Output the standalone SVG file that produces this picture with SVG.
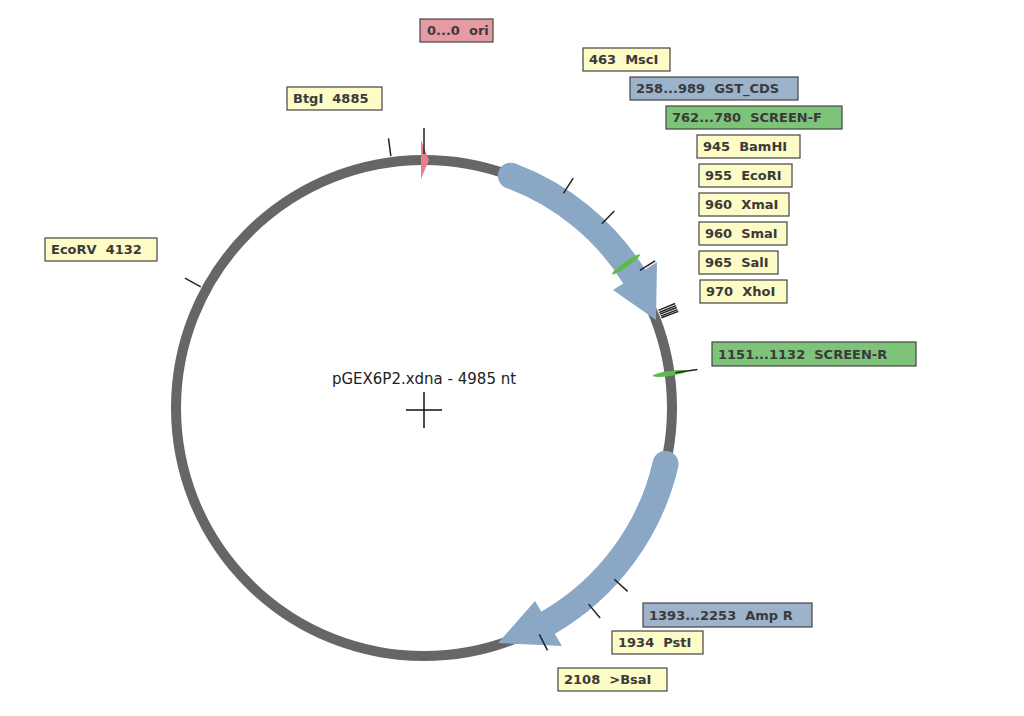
<svg xmlns="http://www.w3.org/2000/svg" width="1024" height="716" viewBox="0 0 1024 716">
<style>
.lb rect{stroke:#444;stroke-width:1.2}
.lb text{font-family:"DejaVu Sans",sans-serif;font-size:13px;font-weight:bold;fill:#3a3a3a;white-space:pre}
.y{fill:#fdfbc6}.p{fill:#e69aa4}.b{fill:#9db3cc}.g{fill:#7dc37a}
.tk{stroke:#222;stroke-width:1.5}
</style>
<rect width="1024" height="716" fill="#fff"/>
<g id="backbone"><circle cx="424" cy="408" r="248" fill="none" stroke="#666" stroke-width="10"/></g>
<g id="features">
<g id="GST_CDS"><path d="M510.8,175.7 A248,248 0 0 1 634.3,276.6" fill="none" stroke="#8aa7c6" stroke-width="26" stroke-linecap="round"/><polygon points="613,290 657,262 656,320" fill="#8aa7c6"/></g>
<g id="AmpR"><path d="M665.6,463.8 A248,248 0 0 1 548,622.8" fill="none" stroke="#8aa7c6" stroke-width="26" stroke-linecap="round"/><polygon points="535,601 562,646 498,643" fill="#8aa7c6"/></g>
<g id="ori"><polygon points="421,140 429,160 421,179" fill="#e8808c"/></g>
<g id="SCREEN-F"><ellipse cx="424" cy="160" rx="2.5" ry="17" fill="#5dbb4a" transform="rotate(54.6 424 408)"/></g>
<g id="SCREEN-R"><ellipse cx="424" cy="160" rx="2.5" ry="17" fill="#5dbb4a" transform="rotate(82 424 408)"/></g>
</g>
<g id="connectors" class="tk">
<line x1="424" y1="154" x2="424" y2="136" transform="rotate(-7.5 424 408)"/>
<line x1="424" y1="154" x2="424" y2="128" transform="rotate(0 424 408)"/>
<line x1="424" y1="152" x2="424" y2="134" transform="rotate(33 424 408)"/>
<line x1="424" y1="152" x2="424" y2="134" transform="rotate(44 424 408)"/>
<line x1="424" y1="152" x2="424" y2="134" transform="rotate(57.5 424 408)"/>
<line x1="424" y1="154" x2="424" y2="136" transform="rotate(67.4 424 408)"/>
<line x1="424" y1="154" x2="424" y2="136" transform="rotate(67.9 424 408)"/>
<line x1="424" y1="154" x2="424" y2="136" transform="rotate(68.3 424 408)"/>
<line x1="424" y1="154" x2="424" y2="136" transform="rotate(68.8 424 408)"/>
<line x1="424" y1="154" x2="424" y2="136" transform="rotate(69.2 424 408)"/>
<line x1="424" y1="154" x2="424" y2="132" transform="rotate(82 424 408)"/>
<line x1="424" y1="152" x2="424" y2="134" transform="rotate(132 424 408)"/>
<line x1="424" y1="152" x2="424" y2="134" transform="rotate(140 424 408)"/>
<line x1="424" y1="154" x2="424" y2="136" transform="rotate(153 424 408)"/>
<line x1="424" y1="154" x2="424" y2="136" transform="rotate(-61.5 424 408)"/>
</g>
<g id="labels" class="lb">
<g id="l-ori"><rect class="p" x="420" y="19" width="73" height="23"/><text x="427" y="35">0...0  ori</text></g>
<g id="l-mscI"><rect class="y" x="583" y="48" width="87" height="23"/><text x="589" y="64">463  MscI</text></g>
<g id="l-gst"><rect class="b" x="630" y="77" width="168" height="23"/><text x="636" y="93">258...989  GST_CDS</text></g>
<g id="l-sf"><rect class="g" x="666" y="106" width="176" height="23"/><text x="672" y="122">762...780  SCREEN-F</text></g>
<g id="l-bam"><rect class="y" x="697" y="135" width="103" height="23"/><text x="703" y="151">945  BamHI</text></g>
<g id="l-eco"><rect class="y" x="699" y="164" width="93" height="23"/><text x="705" y="180">955  EcoRI</text></g>
<g id="l-xma"><rect class="y" x="699" y="193" width="90" height="23"/><text x="705" y="209">960  XmaI</text></g>
<g id="l-sma"><rect class="y" x="699" y="222" width="88" height="23"/><text x="705" y="238">960  SmaI</text></g>
<g id="l-sal"><rect class="y" x="699" y="251" width="79" height="23"/><text x="705" y="267">965  SalI</text></g>
<g id="l-xho"><rect class="y" x="700" y="280" width="87" height="23"/><text x="706" y="296">970  XhoI</text></g>
<g id="l-btg"><rect class="y" x="287" y="87" width="95" height="23"/><text x="293" y="103">BtgI  4885</text></g>
<g id="l-ecorv"><rect class="y" x="45" y="238" width="112" height="23"/><text x="51" y="254">EcoRV  4132</text></g>
<g id="l-sr"><rect class="g" x="712" y="342" width="204" height="24"/><text x="718" y="359">1151...1132  SCREEN-R</text></g>
<g id="l-amp"><rect class="b" x="643" y="603" width="169" height="24"/><text x="649" y="620">1393...2253  Amp R</text></g>
<g id="l-pst"><rect class="y" x="612" y="631" width="91" height="23"/><text x="618" y="647">1934  PstI</text></g>
<g id="l-bsa"><rect class="y" x="558" y="668" width="109" height="23"/><text x="564" y="684">2108  &gt;BsaI</text></g>
</g>
<g id="center">
<text x="424" y="384" text-anchor="middle" font-family="DejaVu Sans,sans-serif" font-size="15" fill="#222">pGEX6P2.xdna - 4985 nt</text>
<path d="M406,410 H442 M424,392 V428" stroke="#111" stroke-width="1.5"/>
</g>
</svg>
